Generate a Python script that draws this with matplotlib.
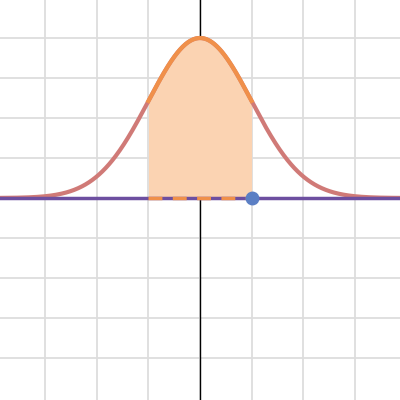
import numpy as np
import matplotlib.pyplot as plt

# data
peak = 4.0
sigma = 1.0
lo, hi = -1.0, 1.0
point = (1.0, 0.0)
xticks = np.arange(-3, 4, 1)
yticks = np.arange(-4, 5, 1)

x = np.linspace(-3.9, 3.9, 600)
y = peak * np.exp(-x**2 / (2 * sigma**2))
xs = np.linspace(lo, hi, 200)
ys = peak * np.exp(-xs**2 / (2 * sigma**2))

fig = plt.figure(figsize=(4, 4), dpi=100)
ax = fig.add_axes([0, 0, 1, 1])
ax.set_xlim(-3.88, 3.88)
ax.set_ylim(-5.05, 4.95)

for t in xticks:
    ax.axvline(t, color='#dddddd', lw=1.3, zorder=0)
for t in yticks:
    ax.axhline(t, color='#dddddd', lw=1.3, zorder=0)
ax.axvline(0, color='black', lw=1, zorder=1)

ax.fill_between(xs, 0, ys, color='#fbd3b2', lw=0, zorder=2)
ax.plot(x, y, color='#d07a77', lw=3, zorder=3)
ax.plot(xs, ys, color='#f0904a', lw=3, zorder=4)
ax.axhline(0, color='#6d4fa0', lw=2.5, zorder=4)
ax.plot([lo, hi], [0, 0], color='#f0904a', lw=2.5, ls=(0, (4, 3)), zorder=5)
ax.plot(*point, 'o', color='#5b7fc4', ms=9, zorder=6)

ax.set_xticks([])
ax.set_yticks([])
for s in ax.spines.values():
    s.set_visible(False)

fig.savefig('out.png', dpi=100)
